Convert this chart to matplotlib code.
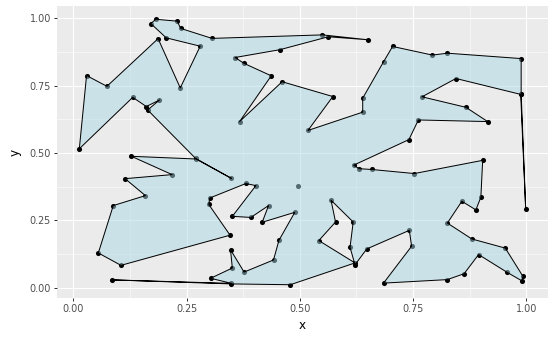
"""
Polygon outline over scattered points, drawn in the ggplot grey theme.
"""

import matplotlib
matplotlib.use('Agg')
import matplotlib.pyplot as plt
import numpy as np
from matplotlib.patches import Polygon

# polygon vertices in drawing order; a few are revisited, which makes the spikes
x = [0.013, 0.029, 0.074, 0.187, 0.236, 0.280, 0.205, 0.171, 0.182, 0.229,
     0.237, 0.306, 0.550, 0.650, 0.563, 0.456, 0.357, 0.377, 0.437, 0.367,
     0.461, 0.573, 0.518, 0.639, 0.639, 0.685, 0.705, 0.793, 0.826, 0.989,
     0.989, 0.999, 0.988, 0.845, 0.770, 0.867, 0.915, 0.762, 0.741, 0.619,
     0.631, 0.659, 0.753, 0.904, 0.900, 0.889, 0.858, 0.826, 0.880, 0.954,
     0.993, 0.990, 0.958, 0.895, 0.863, 0.826, 0.685, 0.747, 0.742, 0.648,
     0.622, 0.611, 0.618, 0.569, 0.579, 0.542, 0.622, 0.479, 0.349, 0.085,
     0.349, 0.303, 0.351, 0.347, 0.377, 0.442, 0.454, 0.489, 0.417, 0.431,
     0.392, 0.351, 0.403, 0.381, 0.301, 0.299, 0.346, 0.105, 0.055, 0.088,
     0.159, 0.114, 0.218, 0.128, 0.271, 0.349, 0.270, 0.164, 0.190, 0.161,
     0.131]
y = [0.516, 0.788, 0.748, 0.925, 0.742, 0.897, 0.928, 0.981, 0.997, 0.990,
     0.963, 0.926, 0.939, 0.921, 0.932, 0.884, 0.855, 0.833, 0.787, 0.617,
     0.765, 0.710, 0.584, 0.652, 0.704, 0.839, 0.896, 0.864, 0.871, 0.851,
     0.720, 0.293, 0.718, 0.777, 0.709, 0.670, 0.617, 0.623, 0.550, 0.455,
     0.442, 0.439, 0.424, 0.473, 0.336, 0.289, 0.321, 0.240, 0.181, 0.147,
     0.042, 0.026, 0.057, 0.123, 0.052, 0.030, 0.017, 0.154, 0.213, 0.144,
     0.085, 0.150, 0.244, 0.325, 0.244, 0.175, 0.092, 0.011, 0.014, 0.029,
     0.016, 0.035, 0.073, 0.141, 0.058, 0.103, 0.176, 0.280, 0.243, 0.305,
     0.261, 0.265, 0.379, 0.387, 0.333, 0.309, 0.195, 0.083, 0.129, 0.305,
     0.342, 0.405, 0.420, 0.488, 0.478, 0.406, 0.480, 0.660, 0.697, 0.673,
     0.707]

# point that is not on the outline
extra_x = [0.497]
extra_y = [0.379]

ticks = [0.00, 0.25, 0.50, 0.75, 1.00]
tick_labels = ['0.00', '0.25', '0.50', '0.75', '1.00']
minor_ticks = [0.125, 0.375, 0.625, 0.875]


def expand(values, frac=0.05):
    lo, hi = min(values), max(values)
    pad = (hi - lo) * frac
    return lo - pad, hi + pad


fig = plt.figure(figsize=(555 / 72, 343 / 72), dpi=72)
ax = fig.add_axes([57 / 555, 45 / 343, 491 / 555, 292 / 343])
ax.set_facecolor('#EBEBEB')
for s in ax.spines.values():
    s.set_visible(False)

all_x = x + extra_x
all_y = y + extra_y
ax.set_xlim(*expand(all_x))
ax.set_ylim(*expand(all_y))

ax.set_xticks(ticks)
ax.set_xticklabels(tick_labels)
ax.set_yticks(ticks)
ax.set_yticklabels(tick_labels)
ax.set_xticks(minor_ticks, minor=True)
ax.set_yticks(minor_ticks, minor=True)
ax.grid(which='major', color='white', linewidth=1.1)
ax.grid(which='minor', color='white', linewidth=0.55)
ax.set_axisbelow(True)
ax.tick_params(which='minor', length=0)
ax.tick_params(which='major', length=3, width=1.0, color='#333333',
               labelcolor='#4D4D4D', labelsize=9.6, pad=3)

ax.scatter(all_x, all_y, s=26, color='black', linewidths=0, zorder=2)

poly = Polygon(np.column_stack([x, y]), closed=True,
               facecolor=(0.678, 0.847, 0.902, 0.5), edgecolor='black',
               linewidth=1.0, joinstyle='round', zorder=3)
ax.add_patch(poly)

ax.set_xlabel('x', fontsize=12, labelpad=5)
ax.set_ylabel('y', fontsize=12, labelpad=8)

fig.savefig('out.png', dpi=72)
